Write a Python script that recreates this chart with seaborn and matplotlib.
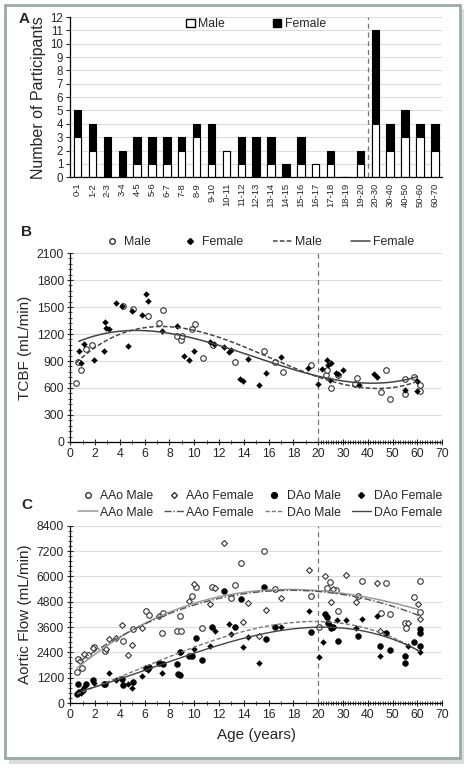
import numpy as np
import pandas as pd
import matplotlib
matplotlib.use("Agg")
import matplotlib.pyplot as plt
from matplotlib.patches import Patch, Rectangle
from matplotlib.lines import Line2D
import seaborn as sns

# ---- panel A : participants per age group
age_groups = ["0-1", "1-2", "2-3", "3-4", "4-5", "5-6", "6-7", "7-8", "8-9", "9-10",
              "10-11", "11-12", "12-13", "13-14", "14-15", "15-16", "16-17", "17-18",
              "18-19", "19-20", "20-30", "30-40", "40-50", "50-60", "60-70"]
n_male = [3, 2, 0, 0, 1, 1, 1, 2, 3, 1, 2, 1, 0, 1, 0, 1, 1, 1, 0, 1, 4, 2, 3, 3, 2]
n_female = [2, 2, 3, 2, 2, 2, 2, 1, 1, 3, 0, 2, 3, 2, 1, 2, 0, 1, 0, 1, 7, 2, 2, 1, 2]

# ---- panel B : TCBF
tcbf_male_age = [0.5, 0.6, 0.9, 1.3, 1.8, 4.3, 5.1, 6.3, 7.2, 7.5, 8.6, 8.9, 9.0, 9.8, 10.1,
                 10.7, 11.5, 13.3, 15.6, 16.5, 17.2, 19.4, 23.0, 23.7, 25.0, 27.8, 35.0,
                 35.6, 45.5, 47.2, 49.0, 54.9, 55.0, 58.8, 61.0, 61.0]
tcbf_male = [659, 885, 796, 1033, 1074, 1515, 1478, 1396, 1322, 1470, 1182, 1137, 1182, 1256,
             1315, 930, 1074, 885, 1007, 889, 781, 859, 744, 796, 600, 748, 641, 715, 552,
             796, 474, 700, 537, 719, 633, 570]
tcbf_female_age = [0.7, 0.9, 1.1, 1.9, 2.7, 2.8, 2.9, 3.1, 3.7, 4.2, 4.7, 5.0, 5.8, 6.1, 6.3,
                   7.4, 8.6, 9.2, 9.6, 10.0, 11.3, 11.6, 12.4, 12.8, 13.0, 13.7, 13.9, 14.3,
                   15.2, 15.8, 17.0, 19.2, 20.1, 21.6, 23.4, 24.0, 25.3, 24.6, 27.0, 27.8,
                   30.0, 36.6, 42.4, 43.6, 55.0, 60.0, 59.7]
tcbf_female = [1007, 878, 1093, 907, 1007, 1330, 1270, 1255, 1544, 1507, 1063, 1452, 1415,
               1641, 1563, 1237, 1285, 952, 907, 1007, 1115, 1093, 1056, 996, 1026, 700, 674,
               922, 637, 770, 941, 822, 644, 815, 915, 859, 874, 685, 767, 755, 796, 637,
               759, 718, 574, 674, 563]

# ---- panel C : aortic flow
aao_male_age = [0.6, 0.55, 0.92, 1.45, 1.9, 2.83, 4.3, 5.1, 6.15, 6.33, 7.5, 7.4, 8.6, 8.87,
                8.95, 9.84, 10.13, 10.67, 11.46, 13.26, 13.0, 13.75, 15.66, 16.5, 19.4, 20.4,
                23.4, 24.7, 27.1, 27.8, 35.9, 37.8, 47.2, 45.2, 48.9, 55.0, 55.2, 58.6, 61.0,
                61.0]
aao_male = [2080, 1466, 1640, 2285, 2650, 2460, 2950, 3530, 4380, 4190, 4290, 3310, 3420,
            4145, 3435, 5075, 5500, 3560, 5515, 5580, 4980, 6620, 7190, 5390, 5090, 3580,
            5440, 5720, 5360, 4370, 5090, 5800, 5675, 4290, 4220, 3780, 3545, 5040, 5800,
            4300]
aao_female_age = [0.8, 1.13, 1.83, 2.9, 3.1, 3.7, 4.15, 4.66, 5.0, 5.8, 7.2, 9.57, 9.97,
                  11.27, 11.64, 12.4, 13.9, 14.3, 15.2, 15.8, 17.0, 19.24, 22.7, 25.1, 26.0,
                  31.4, 35.4, 43.7, 45.1, 56.0, 60.4, 61.0]
aao_female = [1970, 2330, 2585, 2550, 3040, 3060, 3720, 2270, 2770, 3560, 4145, 4820, 5640,
              4700, 5470, 7600, 3845, 4760, 3180, 4430, 4980, 6300, 6035, 4810, 5410, 6070,
              4810, 5675, 3435, 3810, 4700, 4000]
dao_male_age = [0.6, 0.55, 0.7, 1.0, 1.3, 1.83, 2.7, 2.83, 4.2, 4.3, 5.1, 6.15, 6.33, 7.2,
                7.5, 8.6, 8.68, 8.87, 8.87, 9.57, 9.84, 10.13, 10.67, 11.46, 12.4, 13.26,
                13.75, 15.66, 15.8, 16.5, 19.4, 22.7, 23.4, 24.0, 25.1, 26.0, 27.8, 35.9,
                45.1, 47.2, 48.9, 55.0, 55.0, 58.6, 61.0, 61.0, 61.0]
dao_male = [914, 440, 520, 630, 900, 1070, 914, 914, 1150, 850, 977, 1640, 1730, 1920, 1840,
            1860, 1390, 1310, 2400, 2250, 2240, 3070, 2050, 3620, 5300, 3580, 4920, 5515,
            3040, 3580, 3360, 4220, 4100, 3780, 3545, 3620, 2960, 3200, 2680, 3310, 2520,
            2240, 1890, 2870, 3500, 3340, 2680]
dao_female_age = [0.9, 1.1, 1.9, 3.1, 3.7, 4.66, 5.0, 5.77, 6.25, 7.4, 8.95, 9.97, 11.27,
                  11.64, 12.78, 13.0, 13.9, 14.3, 15.2, 17.0, 19.24, 20.4, 21.9, 24.7, 27.4,
                  31.4, 35.4, 37.8, 43.7, 45.1, 56.0, 61.0]
dao_female = [470, 756, 945, 1400, 1070, 914, 725, 1290, 1576, 1420, 2440, 2570, 2680, 3435,
              3735, 3280, 2650, 3150, 1920, 3580, 4380, 2175, 2870, 3700, 3940, 3940, 3545,
              3970, 4130, 2240, 2680, 2400]

x_major = [0, 2, 4, 6, 8, 10, 12, 14, 16, 18, 20, 30, 40, 50, 60, 70]
x_minor = list(range(0, 20)) + list(range(20, 71))


def fwd(x):
    x = np.asarray(x, dtype=float)
    return np.where(x <= 20, x, 20 + (x - 20) / 5)


def inv(t):
    t = np.asarray(t, dtype=float)
    return np.where(t <= 20, t, 20 + (t - 20) * 5)


def trend(age, val, deg=3):
    """Polynomial trend fitted on the displayed (broken) age axis."""
    t = fwd(age)
    coef = np.polyfit(t, val, deg)
    grid = np.linspace(t.min(), t.max(), 200)
    return pd.DataFrame({"age": inv(grid), "val": np.polyval(coef, grid)})


sns.set_theme(style="white")
plt.rcParams["font.family"] = ["Liberation Sans", "DejaVu Sans"]
plt.rcParams["axes.edgecolor"] = "black"
plt.rcParams["axes.linewidth"] = 0.9

fig = plt.figure(figsize=(4.74, 7.74), dpi=100)
fig.patches.append(Rectangle((0.018, 0.013), 0.96, 0.975, transform=fig.transFigure,
                             facecolor="#dcdcdc", edgecolor="none", zorder=-2))
fig.patches.append(Rectangle((0.011, 0.021), 0.96, 0.973, transform=fig.transFigure,
                             facecolor="white", edgecolor="#9aaaa8", lw=2, zorder=-1))

grid_kw = dict(color="#dddddd", lw=0.8)
tick_fs = 8.8

# ---------------- A
axA = fig.add_axes([0.148, 0.771, 0.785, 0.207])
dfA = pd.DataFrame({"group": age_groups, "male": n_male,
                    "total": np.add(n_male, n_female)})
sns.barplot(data=dfA, x="group", y="total", color="black", edgecolor="black",
            linewidth=0.8, width=0.5, ax=axA, saturation=1)
sns.barplot(data=dfA, x="group", y="male", color="white", edgecolor="black",
            linewidth=0.8, width=0.5, ax=axA, saturation=1)
axA.set_ylim(0, 12)
axA.set_xlim(-0.5, len(age_groups) - 0.5)
axA.set_yticks(range(0, 13))
axA.yaxis.grid(True, **grid_kw)
axA.set_axisbelow(True)
axA.axvline(19.5, color="#777777", ls=(0, (4, 3)), lw=0.9)
axA.set_xlabel("")
axA.set_ylabel("Number of Participants", fontsize=11.5, labelpad=3)
axA.set_xticks(range(len(age_groups)))
axA.set_xticklabels(age_groups, rotation=90, fontsize=6.8)
axA.set_xticks(np.arange(-0.5, len(age_groups)), minor=True)
axA.tick_params(axis="x", which="major", length=0, pad=4)
axA.tick_params(axis="x", which="minor", length=5, direction="inout", width=0.8)
axA.tick_params(axis="y", labelsize=8.3, length=3, direction="out", width=0.8, pad=2,
                left=True)
for s in ["top", "right"]:
    axA.spines[s].set_visible(False)
axA.legend(handles=[Patch(facecolor="white", edgecolor="black", label="Male"),
                    Patch(facecolor="black", edgecolor="black", label="Female")],
           loc="center", bbox_to_anchor=(0.5, 0.955), ncol=2, frameon=False,
           fontsize=8.8, handlelength=0.7, handleheight=0.7, handletextpad=0.3,
           columnspacing=3.9)
fig.text(0.04, 0.975, "A", fontsize=11, fontweight="bold", va="center")


def style_age_axis(ax, ymax, ystep, yminor):
    ax.set_xscale("function", functions=(fwd, inv))
    ax.set_xlim(0, 70)
    ax.set_xticks(x_major)
    ax.set_xticklabels([str(v) for v in x_major])
    ax.set_xticks(x_minor, minor=True)
    ax.set_ylim(0, ymax)
    ax.set_yticks(np.arange(0, ymax + 1, ystep))
    ax.set_yticks(np.arange(0, ymax + 1, yminor), minor=True)
    ax.yaxis.grid(True, which="major", **grid_kw)
    ax.set_axisbelow(True)
    ax.tick_params(which="major", labelsize=tick_fs, length=5, direction="inout",
                   width=0.8, pad=2, left=True, bottom=True)
    ax.tick_params(which="minor", length=2.5, direction="inout", width=0.6,
                   left=True, bottom=True)
    for s in ["top", "right"]:
        ax.spines[s].set_visible(False)
    ax.axvline(20, color="#777777", ls=(0, (4, 3)), lw=0.9)


# ---------------- B
axB = fig.add_axes([0.148, 0.429, 0.785, 0.244])
style_age_axis(axB, 2100, 300, 60)
sns.scatterplot(x=tcbf_male_age, y=tcbf_male, marker="o", s=16, facecolor="white",
                edgecolor="#333333", linewidth=0.8, ax=axB, zorder=3)
sns.scatterplot(x=tcbf_female_age, y=tcbf_female, marker="D", s=9, color="black",
                edgecolor="black", ax=axB, zorder=3)
fm = trend(tcbf_male_age, tcbf_male)
ff = trend(tcbf_female_age, tcbf_female)
sns.lineplot(data=fm, x="age", y="val", color="#444444", lw=1.1, ls=(0, (3, 1.5)),
             ax=axB, zorder=4)
sns.lineplot(data=ff, x="age", y="val", color="#444444", lw=1.1, ax=axB, zorder=4)
axB.set_xlabel("")
axB.set_ylabel("TCBF (mL/min)", fontsize=11, labelpad=3)
axB.legend(handles=[
    Line2D([], [], ls="none", marker="o", ms=4, mfc="white", mec="#333333", label="Male"),
    Line2D([], [], ls="none", marker="D", ms=3, mfc="black", mec="black", label="Female"),
    Line2D([], [], ls=(0, (3, 1.5)), color="#444444", lw=1.1, label="Male"),
    Line2D([], [], ls="-", color="#444444", lw=1.1, label="Female")],
    loc="center", bbox_to_anchor=(0.505, 1.058), ncol=4, frameon=False, fontsize=8.8,
    handlelength=1.6, handletextpad=0.2, columnspacing=2.4)
fig.text(0.045, 0.7, "B", fontsize=11, fontweight="bold", va="center")

# ---------------- C
axC = fig.add_axes([0.148, 0.0917, 0.785, 0.229])
style_age_axis(axC, 8400, 1200, 240)
sns.scatterplot(x=aao_male_age, y=aao_male, marker="o", s=16, facecolor="white",
                edgecolor="#333333", linewidth=0.8, ax=axC, zorder=3)
sns.scatterplot(x=aao_female_age, y=aao_female, marker="D", s=9, facecolor="white",
                edgecolor="#333333", linewidth=0.8, ax=axC, zorder=3)
sns.scatterplot(x=dao_male_age, y=dao_male, marker="o", s=18, color="black",
                edgecolor="black", ax=axC, zorder=3)
sns.scatterplot(x=dao_female_age, y=dao_female, marker="D", s=9, color="black",
                edgecolor="black", ax=axC, zorder=3)
line_styles = {
    "AAo Male": dict(color="#9a9a9a", ls="-", lw=1.1),
    "AAo Female": dict(color="#555555", ls=(0, (5, 1.5, 1, 1.5)), lw=1.0),
    "DAo Male": dict(color="#777777", ls=(0, (3, 1.5)), lw=1.0),
    "DAo Female": dict(color="#444444", ls="-", lw=1.0),
}
for name, (a, v) in {"AAo Male": (aao_male_age, aao_male),
                     "AAo Female": (aao_female_age, aao_female),
                     "DAo Male": (dao_male_age, dao_male),
                     "DAo Female": (dao_female_age, dao_female)}.items():
    sns.lineplot(data=trend(a, v), x="age", y="val", ax=axC, zorder=4, **line_styles[name])
axC.set_xlabel("Age (years)", fontsize=11, labelpad=5)
axC.set_ylabel("Aortic Flow (mL/min)", fontsize=11, labelpad=3)
handlesC = [
    Line2D([], [], ls="none", marker="o", ms=4, mfc="white", mec="#333333", label="AAo Male"),
    Line2D([], [], label="AAo Male", **line_styles["AAo Male"]),
    Line2D([], [], ls="none", marker="D", ms=3, mfc="white", mec="#333333", label="AAo Female"),
    Line2D([], [], label="AAo Female", **line_styles["AAo Female"]),
    Line2D([], [], ls="none", marker="o", ms=4.2, mfc="black", mec="black", label="DAo Male"),
    Line2D([], [], label="DAo Male", **line_styles["DAo Male"]),
    Line2D([], [], ls="none", marker="D", ms=3, mfc="black", mec="black", label="DAo Female"),
    Line2D([], [], label="DAo Female", **line_styles["DAo Female"]),
]
axC.legend(handles=handlesC, loc="center", bbox_to_anchor=(0.51, 1.12), ncol=4,
           frameon=False, fontsize=8.8, handlelength=1.6, handletextpad=0.2,
           columnspacing=0.9, labelspacing=0.35)
fig.text(0.045, 0.347, "C", fontsize=11, fontweight="bold", va="center")

fig.savefig("out.png", dpi=100)
